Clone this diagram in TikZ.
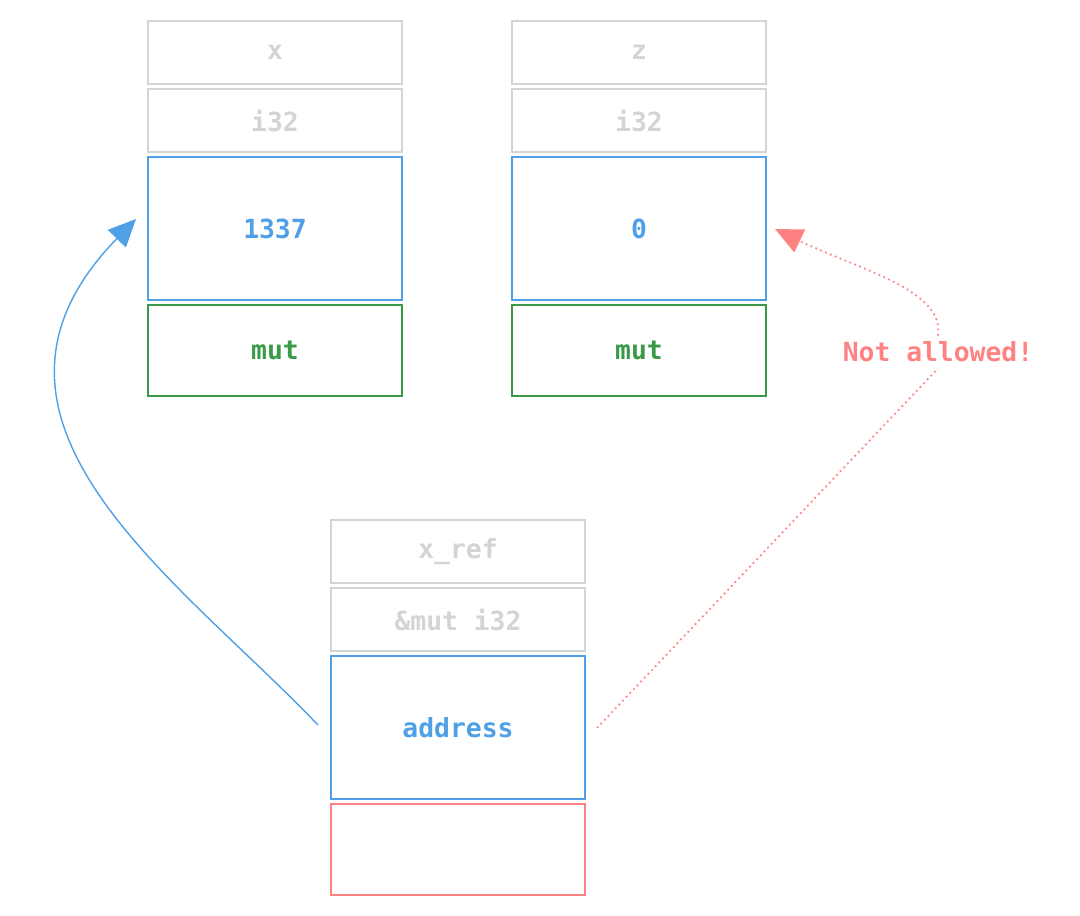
\documentclass[tikz,border=0pt]{standalone}
\usepackage{fontspec}
\usetikzlibrary{arrows.meta}
\setmainfont{DejaVu Sans Mono}
\definecolor{lgray}{HTML}{D4D4D4}
\definecolor{mblue}{HTML}{4FA0E6}
\definecolor{mgreen}{HTML}{3A9A48}
\definecolor{mred}{HTML}{FF8282}
\tikzset{
 cell/.style={draw=#1, line width=0.8pt, minimum width=5.08cm, inner sep=0pt, font=\fontsize{15}{15}\selectfont\bfseries},
 namecell/.style={cell=lgray, minimum height=1.26cm, text=lgray},
 valcell/.style={cell=mblue, minimum height=2.86cm, text=mblue},
 mutcell/.style={cell=mgreen, minimum height=1.82cm, text=mgreen},
}
\begin{document}
\begin{tikzpicture}[x=0.02cm,y=-0.02cm]
\useasboundingbox (0,0) rectangle (1080,916);

\node[namecell] (xname) at (275,52.5) {x};
\node[namecell] (xtype) at (275,120.5) {i32};
\node[valcell] (xval) at (275,228.5) {1337};
\node[mutcell] (xmut) at (275,350.5) {mut};

\node[namecell] (zname) at (639,52.5) {z};
\node[namecell] (ztype) at (639,120.5) {i32};
\node[valcell] (zval) at (639,228.5) {0};
\node[mutcell] (zmut) at (639,350.5) {mut};

\node[namecell] (rname) at (458,551.5) {x\_ref};
\node[namecell] (rtype) at (458,619.5) {\&mut i32};
\node[valcell] (rval) at (458,727.5) {address};
\node[cell=mred, minimum height=1.82cm] (rbox) at (458,849.5) {};

\coordinate (bstart) at (318,725);
\coordinate (rstart) at (597,728);
\coordinate (bend) at (136,219);
\coordinate (rend) at (775,229);
\node[text=mred, font=\fontsize{15}{15}\selectfont\bfseries] (nope) at (938,352) {Not allowed!};

\draw[mblue, line width=0.8pt, -{Triangle[length=0.55cm,width=0.5cm]}]
 (bstart) .. controls (180,580) and (-60,420) .. (bend);
\draw[mred, line width=1pt, dotted, -{Triangle[length=0.55cm,width=0.5cm]}]
 (rstart) -- (nope.south) (nope.north) .. controls (945,290) and (860,270) .. (rend);
\end{tikzpicture}
\end{document}
